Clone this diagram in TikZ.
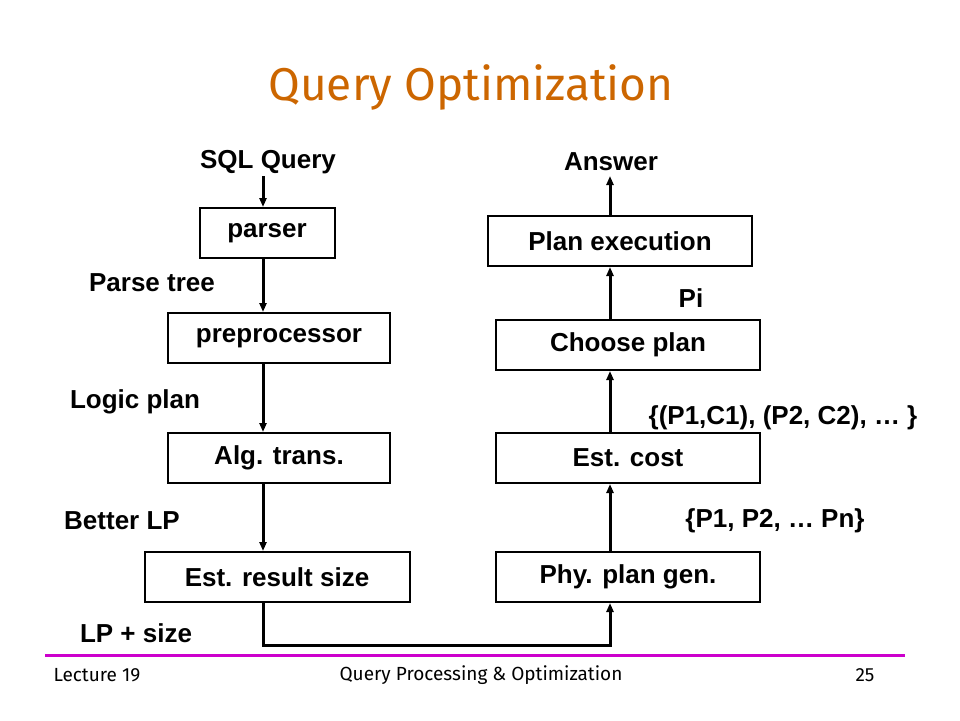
\documentclass[tikz,border=0pt]{standalone}
\usepackage{fontspec}
\setmainfont{Liberation Sans}
\newfontfamily\slidefont{Fira Sans}
\usetikzlibrary{arrows.meta,positioning}
\definecolor{titleorange}{HTML}{CC6600}
\definecolor{rulemagenta}{HTML}{CC00CC}

\begin{document}
\begin{tikzpicture}[
  x=1pt, y=-1pt,
  >={Triangle[length=9pt,width=7pt]},
  lbl/.style={font=\fontsize{26}{30}\selectfont\bfseries},
  stage/.style={draw, line width=2pt, lbl, minimum height=50pt, inner sep=2pt},
  flow/.style={->, line width=3pt}
]
\useasboundingbox (0,0) rectangle (960,720);

% Title
\node[font=\slidefont\fontsize{46}{50}\selectfont, text=titleorange] (title) at (471,87) {Query Optimization};

% Left column
\node[lbl] (sql) at (268,162) {SQL Query};
\node[stage, minimum width=135pt] (parser) at (267,233) {parser};
\node[stage, minimum width=222pt] (prep) at (279,338) {preprocessor};
\node[stage, minimum width=222pt] (alg) at (279,458) {Alg. trans.};
\node[stage, minimum width=265pt] (estsize) at (277,577) {Est. result size};

% Right column
\node[lbl] (answer) at (611,162) {Answer};
\node[stage, minimum width=264pt] (exec) at (620,241) {Plan execution};
\node[stage, minimum width=264pt] (choose) at (628,345) {Choose plan};
\node[stage, minimum width=264pt] (estcost) at (628,458) {Est. cost};
\node[stage, minimum width=264pt] (phy) at (628,577) {Phy. plan gen.};

% Edge labels
\node[lbl] (ptree) at (152,283) {Parse tree};
\node[lbl] (lplan) at (135,402) {Logic plan};
\node[lbl] (blp) at (122,521) {Better LP};
\node[lbl] (lpsize) at (136,633) {LP + size};
\node[lbl] (pi) at (691,298) {Pi};
\node[lbl] (pcset) at (783,418) {\{(P1,C1), (P2, C2), … \}};
\node[lbl] (pset) at (775,521) {\{P1, P2, … Pn\}};

% Arrows
\coordinate (lcol) at (263,176);
\coordinate (rcol) at (610,176);
\coordinate (lbot) at (263,645);
\coordinate (rbot) at (610,645);
\draw[flow] (lcol) -- (lcol |- parser.north);
\draw[flow] (lcol |- parser.south) -- (lcol |- prep.north);
\draw[flow] (lcol |- prep.south) -- (lcol |- alg.north);
\draw[flow] (lcol |- alg.south) -- (lcol |- estsize.north);
\draw[flow] (lcol |- estsize.south) -- (lbot) -- (rbot) -- (rcol |- phy.south);
\draw[flow] (rcol |- phy.north) -- (rcol |- estcost.south);
\draw[flow] (rcol |- estcost.north) -- (rcol |- choose.south);
\draw[flow] (rcol |- choose.north) -- (rcol |- exec.south);
\draw[flow] (rcol |- exec.north) -- (rcol);

% Footer
\draw[rulemagenta, line width=3pt] (45,655) -- (905,655);
\node[font=\slidefont\fontsize{19}{22}\selectfont, anchor=west] (lecture) at (50,675) {Lecture 19};
\node[font=\slidefont\fontsize{19}{22}\selectfont] (course) at (481,675) {Query Processing \& Optimization};
\node[font=\slidefont\fontsize{19}{22}\selectfont] (page) at (865,675) {25};
\end{tikzpicture}
\end{document}
